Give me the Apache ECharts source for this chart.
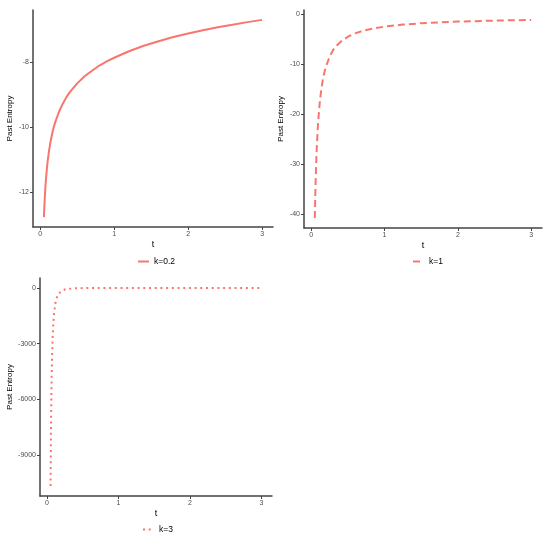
<!DOCTYPE html>
<html>
<head>
<meta charset="utf-8">
<script src="https://cdn.jsdelivr.net/npm/echarts@6/dist/echarts.min.js"></script>
<style>
  html, body { margin: 0; padding: 0; background: #fff; }
  #main { width: 550px; height: 536px; }
</style>
</head>
<body>
<div id="main"></div>
<script>
// values
var xTicks = [0, 1, 2, 3];

// k=0.2
var t1 = [0.05, 0.06, 0.07, 0.08, 0.09, 0.10, 0.12, 0.14, 0.16, 0.18, 0.20, 0.25, 0.30, 0.35, 0.40, 0.50, 0.60, 0.70, 0.80, 0.90, 1.00, 1.20, 1.40, 1.60, 1.80, 2.00, 2.20, 2.40, 2.60, 2.80, 3.00];
var v1 = [-12.78, -12.26, -11.86, -11.55, -11.29, -11.07, -10.72, -10.45, -10.22, -10.03, -9.87, -9.55, -9.30, -9.09, -8.92, -8.65, -8.43, -8.26, -8.10, -7.97, -7.86, -7.66, -7.49, -7.35, -7.22, -7.11, -7.01, -6.92, -6.84, -6.76, -6.69];
var yTicks1 = [-12, -10, -8];

// k=1
var t2 = [0.05, 0.055, 0.06, 0.065, 0.07, 0.08, 0.09, 0.10, 0.12, 0.14, 0.16, 0.18, 0.20, 0.25, 0.30, 0.35, 0.40, 0.50, 0.60, 0.70, 0.80, 1.00, 1.25, 1.50, 2.00, 2.50, 3.00];
var v2 = [-40.8, -37.1, -34.1, -31.5, -29.3, -25.7, -22.9, -20.7, -17.3, -14.9, -13.1, -11.7, -10.6, -8.6, -7.2, -6.3, -5.6, -4.56, -3.89, -3.41, -3.05, -2.54, -2.14, -1.87, -1.54, -1.34, -1.20];
var yTicks2 = [-40, -30, -20, -10, 0];

// k=3
var t3 = [0.05, 0.055, 0.06, 0.065, 0.07, 0.08, 0.09, 0.10, 0.12, 0.14, 0.16, 0.2, 0.25, 0.3, 0.4, 0.5, 0.75, 1.0, 1.5, 2.0, 3.0];
var v3 = [-10650, -8000, -6200, -4850, -3900, -2600, -1830, -1340, -780, -490, -330, -170, -85, -50, -21, -11, -3, -1.3, -0.4, -0.2, -0.05];
var yTicks3 = [-9000, -6000, -3000, 0];

var names = ['k=0.2', 'k=1', 'k=3'];
var red = '#F8766D';

function pairs(t, v) {
    var out = [];
    for (var i = 0; i < t.length; i++) out.push([t[i], v[i]]);
    return out;
}

// ggplot style 5% padding on each side
function pad(lo, hi) {
    var d = (hi - lo) * 0.05;
    return [lo - d, hi + d];
}

var xr = pad(0.05, 3);
var yr1 = pad(Math.min.apply(null, v1), Math.max.apply(null, v1));
var yr2 = pad(Math.min.apply(null, v2), Math.max.apply(null, v2));
var yr3 = pad(Math.min.apply(null, v3), Math.max.apply(null, v3));

function plain(v) { return String(v); }

function xAx(idx) {
    return {
        type: 'value', gridIndex: idx, min: xr[0], max: xr[1],
        name: 't', nameLocation: 'middle', nameGap: 13,
        nameTextStyle: { color: '#000', fontSize: 9, fontFamily: 'Liberation Sans' },
        axisLine: { onZero: false, lineStyle: { color: '#444', width: 1.5 } },
        axisTick: { customValues: xTicks, length: 3, lineStyle: { color: '#444' } },
        axisLabel: { customValues: xTicks, formatter: plain, color: '#4D4D4D', fontSize: 7, margin: 4, fontFamily: 'Liberation Sans' },
        splitLine: { show: false }
    };
}
function yAx(idx, r, ticks) {
    return {
        type: 'value', gridIndex: idx, min: r[0], max: r[1],
        name: 'Past Entropy', nameLocation: 'middle', nameGap: idx === 2 ? 25 : 19,
        nameTextStyle: { color: '#000', fontSize: 8, fontFamily: 'Liberation Sans' },
        axisLine: { show: true, onZero: false, lineStyle: { color: '#444', width: 1.5 } },
        axisTick: { show: true, customValues: ticks, length: 3, lineStyle: { color: '#444' } },
        axisLabel: { customValues: ticks, formatter: plain, color: '#4D4D4D', fontSize: 7, margin: 4, fontFamily: 'Liberation Sans' },
        splitLine: { show: false }
    };
}
function leg(name, left, top) {
    return {
        data: [name], left: left, top: top, itemWidth: 11, itemHeight: 8, itemGap: 4,
        itemStyle: { opacity: 0 },
        textStyle: { color: '#000', fontSize: 8.5, fontFamily: 'Liberation Sans' }
    };
}

var chart = echarts.init(document.getElementById('main'));
chart.setOption({
    backgroundColor: '#fff',
    animation: false,
    grid: [
        { left: 33, top: 10, width: 240, height: 217 },
        { left: 304, top: 10, width: 238, height: 218 },
        { left: 40, top: 278, width: 232, height: 218 }
    ],
    xAxis: [xAx(0), xAx(1), xAx(2)],
    yAxis: [yAx(0, yr1, yTicks1), yAx(1, yr2, yTicks2), yAx(2, yr3, yTicks3)],
    legend: [leg(names[0], 132, 252), leg(names[1], 407, 252), leg(names[2], 137, 520)],
    series: [
        {
            name: names[0], type: 'line', xAxisIndex: 0, yAxisIndex: 0, data: pairs(t1, v1),
            showSymbol: false, symbol: 'none', smooth: false,
            lineStyle: { color: red, width: 2 }, itemStyle: { color: red }
        },
        {
            name: names[1], type: 'line', xAxisIndex: 1, yAxisIndex: 1, data: pairs(t2, v2),
            showSymbol: false, symbol: 'none', smooth: false,
            lineStyle: { color: red, width: 2, type: [7, 4] }, itemStyle: { color: red }
        },
        {
            name: names[2], type: 'line', xAxisIndex: 2, yAxisIndex: 2, data: pairs(t3, v3),
            showSymbol: false, symbol: 'none', smooth: false,
            lineStyle: { color: red, width: 2, type: [2, 3.7] }, itemStyle: { color: red }
        }
    ]
});

window.addEventListener('resize', function () {
    chart.resize();
});
</script>
</body>
</html>
